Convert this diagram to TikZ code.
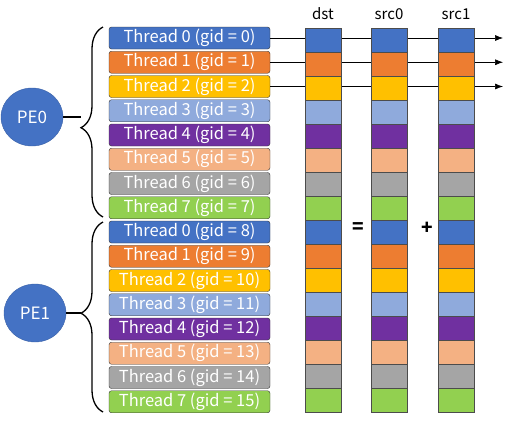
\documentclass[tikz,border=0pt]{standalone}
\usepackage{fontspec}
\setmainfont{Noto Sans CJK JP}
\usetikzlibrary{arrows, arrows.meta, shapes.geometric, decorations.pathreplacing}

\definecolor{col0}{HTML}{4472C4}
\definecolor{col1}{HTML}{ED7D31}
\definecolor{col2}{HTML}{FFC000}
\definecolor{col3}{HTML}{8FAADC}
\definecolor{col4}{HTML}{7030A0}
\definecolor{col5}{HTML}{F4B183}
\definecolor{col6}{HTML}{A5A5A5}
\definecolor{col7}{HTML}{92D050}

\begin{document}
\begin{tikzpicture}[>={Latex[length=8pt,width=6pt]}, x=1pt, y=-1pt, font=\fontsize{15}{17}\selectfont,
	thread/.style={draw=black!80, rounded corners=2.5pt, text=white, minimum width=161pt, minimum height=22pt, inner sep=0pt, font=\fontsize{16.5}{18}\selectfont},
	cell/.style={draw=black!70, line width=0.8pt, minimum width=36pt, minimum height=24pt, inner sep=0pt},
	pe/.style={ellipse, fill=col0, draw=col0!85!black, text=white, minimum width=62pt, minimum height=58pt, inner sep=0pt, font=\fontsize{17}{19}\selectfont},
	pebrace/.style={decorate, decoration={brace, amplitude=22pt, aspect=#1}, line width=1.3pt},
	sign/.style={font=\fontsize{19}{21}\selectfont\bfseries}]

\useasboundingbox (0,0) rectangle (511,421);

\foreach \n in {0,...,15}{
	\pgfmathtruncatemacro{\i}{mod(\n,8)}
	\node[thread, fill=col\i] (t\n) at (189.5, {38+24.25*\n}) {Thread \i\ (gid = \n)};
}

\foreach \n in {0,1,2}{
	\coordinate (e\n) at (503, {38+24.25*\n});
	\draw[->, semithick] (t\n.east) -- (e\n);
}

\foreach \n in {0,...,15}{
	\pgfmathtruncatemacro{\i}{mod(\n,8)}
	\node[cell, fill=col\i] (d\n) at (323, {40+24*\n}) {};
	\node[cell, fill=col\i] (a\n) at (389, {40+24*\n}) {};
	\node[cell, fill=col\i] (b\n) at (456, {40+24*\n}) {};
}

\node (hdst) at (323, 14) {dst};
\node (hsrc0) at (389, 14) {src0};
\node (hsrc1) at (456, 14) {src1};

\node[sign] (eq) at (358, 228) {=};
\node[sign] (plus) at (427, 228) {+};

\node[pe] (pe0) at (32, 117) {PE0};
\node[pe] (pe1) at (35, 313) {PE1};

\draw[pebrace=0.47] (103, 217) -- (103, 27);
\draw[pebrace=0.52] (103, 412) -- (103, 222);

\coordinate (tip0) at (81, 117);
\coordinate (tip1) at (81, 313);
\draw[line width=1.3pt] (pe0) -- (tip0);
\draw[line width=1.3pt] (pe1) -- (tip1);

\end{tikzpicture}
\end{document}
